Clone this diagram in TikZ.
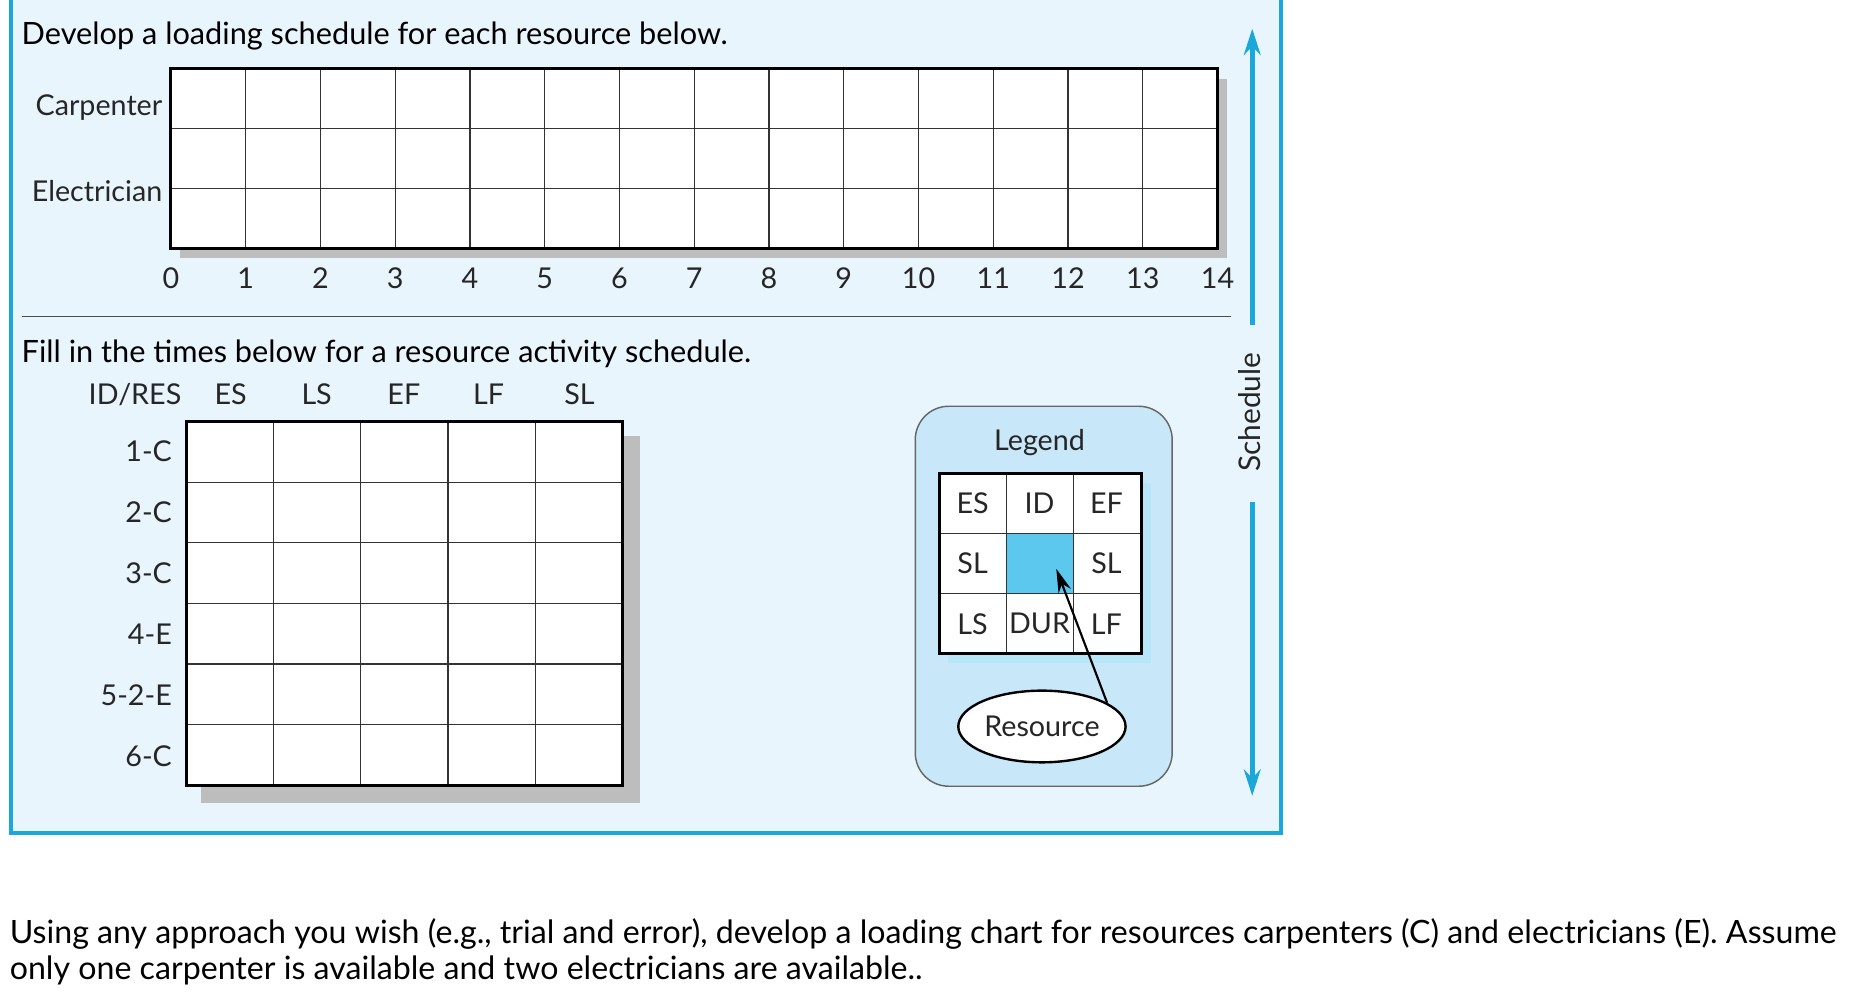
\documentclass[tikz,border=0pt]{standalone}
\usepackage{fontspec}
\setmainfont{Lato}
\usetikzlibrary{arrows.meta,shapes.geometric}
\definecolor{bgblue}{HTML}{E9F5FC}
\definecolor{frame}{HTML}{1AA7DA}
\definecolor{legbg}{HTML}{C8E7F8}
\definecolor{cell}{HTML}{5CC8EE}
\definecolor{shad}{HTML}{BDBDBD}
\begin{document}
\begin{tikzpicture}[x=1pt,y=-1pt,
  txt/.style={font=\fontsize{25.7}{28}\selectfont,inner sep=0pt},
  sm/.style={font=\fontsize{24}{26}\selectfont,inner sep=0pt,text=black!85},
  grid/.style={line width=1pt,black!80},
  box/.style={line width=2.5pt,black}]
\useasboundingbox (0,0) rectangle (1560,832);
\fill[white] (0,0) rectangle (1560,832);
% outer frame
\draw[frame,fill=bgblue,line width=3pt] (9,-5) -- (9,697) -- (1072,697) -- (1072,-5);
\node[txt,anchor=west] (t1) at (18,30) {Develop a loading schedule for each resource below.};
% top grid
\fill[shad] (151,66) rectangle (1027,216);
\fill[white] (143,57) rectangle (1019,208);
\foreach \i in {1,...,13} \draw[grid] ({143+62.571*\i},57) -- ({143+62.571*\i},208);
\draw[grid] (143,107.3) -- (1019,107.3);
\draw[grid] (143,157.7) -- (1019,157.7);
\draw[box] (143,57) rectangle (1019,208);
\node[sm,anchor=east] (c) at (136,90) {Carpenter};
\node[sm,anchor=east] (e) at (136,160) {Electrician};
\foreach \i in {0,...,14} \node[sm] (n\i) at ({143+62.571*\i},233) {\i};
\draw[line width=1.2pt,black!70] (18,265) -- (1030,265);
\node[txt,anchor=west] (t2) at (18,296) {Fill in the times below for a resource activity schedule.};
\node[sm] (h0) at (113,330) {ID/RES};
\node[sm] (h1) at (193,330) {ES};
\node[sm] (h2) at (265,330) {LS};
\node[sm] (h3) at (338,330) {EF};
\node[sm] (h4) at (409,330) {LF};
\node[sm] (h5) at (485,330) {SL};
% bottom grid
\fill[shad] (168,365) rectangle (536,672);
\fill[white] (156,353) rectangle (521,657);
\foreach \i in {1,...,4} \draw[grid] ({156+73*\i},353) -- ({156+73*\i},657);
\foreach \j in {1,...,5} \draw[grid] (156,{353+50.67*\j}) -- (521,{353+50.67*\j});
\draw[box] (156,353) rectangle (521,657);
\foreach \l [count=\j from 0] in {1-C,2-C,3-C,4-E,5-2-E,6-C}
  \node[sm,anchor=east] (r\j) at (144,{378+51*\j}) {\l};
% legend
\draw[fill=legbg,draw=black!60,line width=1.2pt,rounded corners=28pt] (766,340) rectangle (981,658);
\node[sm] (lg) at (870,370) {Legend};
\fill[cell!45] (793,404) rectangle (963,555);
\fill[white] (786,396) rectangle (955,547);
\fill[cell] (842.3,446.3) rectangle (898.7,496.7);
\draw[grid] (842.3,396) -- (842.3,547);
\draw[grid] (898.7,396) -- (898.7,547);
\draw[grid] (786,446.3) -- (955,446.3);
\draw[grid] (786,496.7) -- (955,496.7);
\draw[box] (786,396) rectangle (955,547);
\node[sm] (l1) at (814,421) {ES};
\node[sm] (l2) at (870,421) {ID};
\node[sm] (l3) at (926,421) {EF};
\node[sm] (l4) at (814,471) {SL};
\node[sm] (l6) at (926,471) {SL};
\node[sm] (l7) at (814,522) {LS};
\node[sm] (l8) at (870,522) {DUR};
\node[sm] (l9) at (926,522) {LF};
\coordinate (tgt) at (884,476);
\node[ellipse,draw=black,line width=2pt,fill=white,minimum width=140pt,minimum height=60pt,sm] (res) at (872,608) {Resource};
\draw[line width=1.8pt,-{Stealth[length=20pt,width=11pt]}] (res.20) -- (tgt);
% schedule arrow
\node[sm,rotate=90,font=\fontsize{25}{28}\selectfont] (sch) at (1046,345) {Schedule};
\coordinate (top) at (1048,24);
\coordinate (bot) at (1048,666);
\draw[frame,line width=4.5pt,-{Stealth[length=22pt,width=14pt]}] (1048,272) -- (top);
\draw[frame,line width=4.5pt,-{Stealth[length=22pt,width=14pt]}] (1048,420) -- (bot);
% bottom text
\node[txt,anchor=west,font=\fontsize{26.9}{28}\selectfont] (b1) at (8,782) {Using any approach you wish (e.g., trial and error), develop a loading chart for resources carpenters (C) and electricians (E). Assume};
\node[txt,anchor=west,font=\fontsize{26.9}{28}\selectfont] (b2) at (8,812) {only one carpenter is available and two electricians are available..};
\end{tikzpicture}
\end{document}
